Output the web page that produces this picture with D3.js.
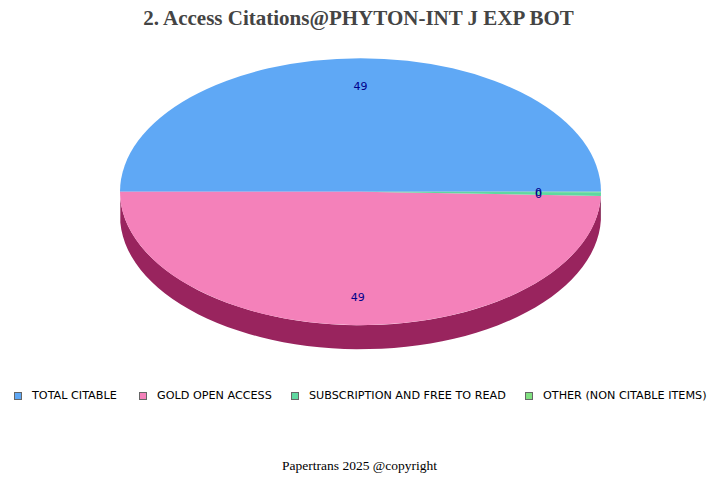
<!DOCTYPE html>
<html>
<head>
<meta charset="UTF-8">
<title>Access Citations</title>
<script src="https://cdn.jsdelivr.net/npm/d3@7"></script>
<style>
	html, body { margin: 0; padding: 0; background: #fff; }
	svg { display: block; }
</style>
</head>
<body>
<svg id="chart" width="720" height="480"></svg>
<script>
	var categories = ["TOTAL CITABLE", "GOLD OPEN ACCESS", "SUBSCRIPTION AND FREE TO READ", "OTHER (NON CITABLE ITEMS)"];
	var values = [49, 48.5, 0.45, 0.05];
	var labels = ["49", "49", "0", "0"];
	var colors = ["#5fa8f5", "#f481ba", "#5fd8a0", "#80e080"];
	var sideColors = ["#2c5f99", "#99245e", "#2f8a60", "#45944a"];

	var cx = 360.5, cy = 191.7, rx = 240.5, ry = 133.5, depth = 24;
	var legendLeft = [14, 139, 291, 525];
	var svg = d3.select("#chart");

	svg.append("text").attr("x", 358.5).attr("y", 25)
		.attr("text-anchor", "middle")
		.style("font", "bold 21px 'Liberation Serif'")
		.style("fill", "#444")
		.text("2. Access Citations@PHYTON-INT J EXP BOT");

	// slices run counter clockwise from the east tip
	var pie = d3.pie().sort(null).startAngle(Math.PI / 2).endAngle(Math.PI / 2 - 2 * Math.PI);
	var slices = pie(values);
	var arc = d3.arc().innerRadius(0).outerRadius(rx);

	var px = function (a) { return cx + rx * Math.sin(a); };
	var py = function (a) { return cy - ry * Math.cos(a); };

	// side wall, only where a slice is on the front half
	var side = svg.append("g");
	slices.forEach(function (d, i) {
		var a0 = Math.max(d.startAngle, d.endAngle), a1 = Math.min(d.startAngle, d.endAngle);
		var from = Math.min(a0, Math.PI / 2), to = Math.max(a1, -Math.PI / 2 - Math.PI);
		var front = [];
		d3.range(0, 61).forEach(function (k) {
			var a = from + (to - from) * k / 60;
			if (Math.cos(a) <= 0) front.push(a);
		});
		if (!front.length) return;
		var top = front.map(function (a) { return [px(a), py(a)]; });
		var bottom = front.slice().reverse().map(function (a) { return [px(a), py(a) + depth]; });
		side.append("path")
			.attr("d", d3.line()(top.concat(bottom)) + "Z")
			.attr("fill", sideColors[i]);
	});

	// top face, circle arc squeezed to an ellipse
	svg.append("g")
		.attr("transform", "translate(" + cx + "," + cy + ") scale(1," + (ry / rx) + ")")
		.selectAll("path").data(slices).enter().append("path")
		.attr("d", arc)
		.attr("fill", function (d, i) { return colors[i]; });

	svg.append("g").selectAll("text").data(slices).enter().append("text")
		.attr("x", function (d) { return cx + rx * 0.74 * Math.sin((d.startAngle + d.endAngle) / 2); })
		.attr("y", function (d) { return cy + 4 - ry * 0.79 * Math.cos((d.startAngle + d.endAngle) / 2); })
		.attr("text-anchor", "middle")
		.style("font", "11px 'DejaVu Sans'")
		.style("fill", "#00008b")
		.text(function (d, i) { return labels[i]; });

	// legend
	var legend = svg.append("g");
	categories.forEach(function (c, i) {
		legend.append("rect")
			.attr("x", legendLeft[i] + 0.5).attr("y", 392.5).attr("width", 7).attr("height", 7)
			.attr("fill", colors[i]).attr("stroke", "#666");
		legend.append("text").attr("x", legendLeft[i] + 18).attr("y", 399)
			.style("font", "11.2px 'DejaVu Sans'").style("fill", "#000").text(c);
	});

	svg.append("text").attr("x", 359.5).attr("y", 470)
		.attr("text-anchor", "middle")
		.style("font", "13.5px 'Liberation Serif'")
		.style("fill", "#000")
		.text("Papertrans 2025 @copyright");
</script>
</body>
</html>
